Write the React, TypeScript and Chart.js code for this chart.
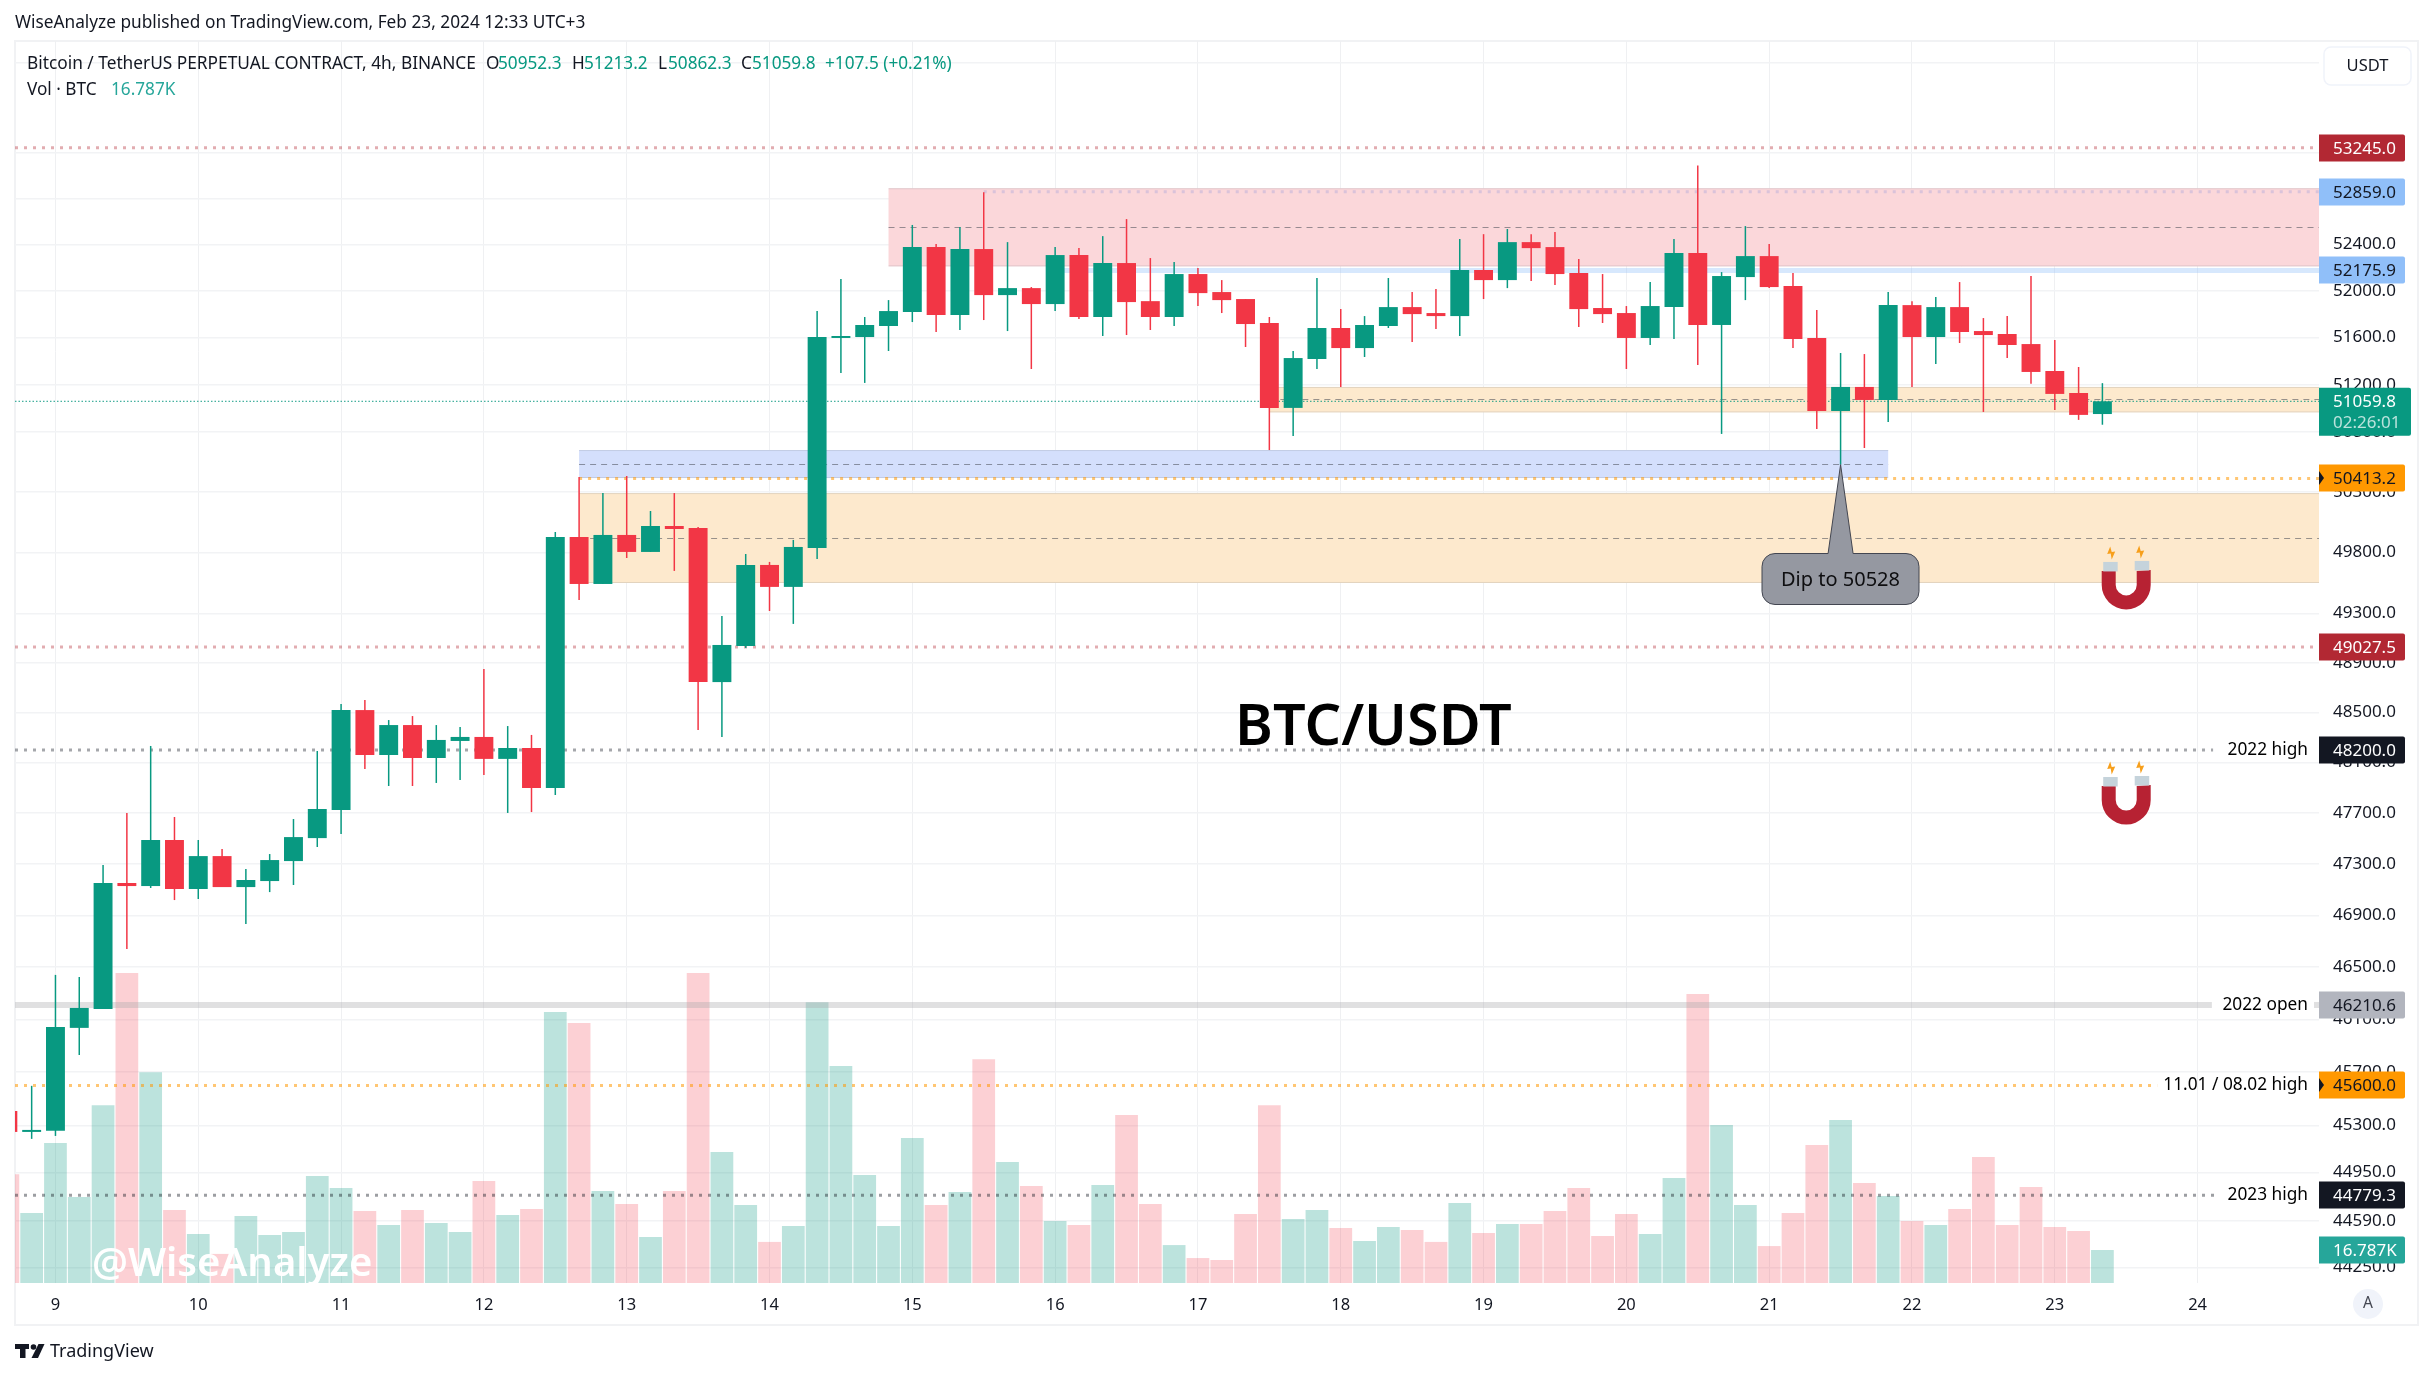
import React, { useEffect, useRef } from "react";
import { Chart, registerables } from "chart.js";

Chart.register(...registerables);

const FONT = '"Noto Sans", sans-serif';
const firstBarIndex = -2;

const dayLabels = ["9", "10", "11", "12", "13", "14", "15", "16", "17", "18", "19", "20", "21", "22", "23", "24"];
const priceTicks = [44250, 44590, 44950, 45300, 45700, 46100, 46500, 46900, 47300, 47700, 48100, 48500, 48900, 49300, 49800, 50300, 50800, 51200, 51600, 52000, 52400, 52800, 53200, 54000];

const opens = [45408,45251,45259,46036,46180,47152,47128,47488,47105,47362,47120,47167,47323,47503,47724,48519,48160,48399,48136,48272,48304,48129,48216,47898,49927,49541,49944,49804,50018,50002,48744,49036,49697,49517,49837,51597,51605,51699,51819,52378,51793,52361,51964,52024,51887,52309,51776,52240,51912,51776,52145,51990,51930,51725,51004,51418,51682,51511,51699,51861,51810,51784,52180,52093,52421,52378,52154,51853,51810,51597,51861,52326,51708,52119,52300,52042,51597,50978,51181,51071,51878,51605,51861,51656,51631,51545,51316,51130,50952.3];
const highs = [45491,45597,46441,46425,47292,47701,48232,47669,47488,47417,47261,47378,47653,48192,48567,48599,48439,48471,48399,48383,48849,48391,48320,49969,50425,50291,50433,50142,50291,50010,49280,49787,49722,49903,51827,52102,51776,51921,52570,52404,52553,52855,52421,52033,52378,52369,52473,52621,52283,52249,52197,52093,51930,51776,51486,52111,51844,51784,52111,51990,52016,52447,52490,52535,52490,52508,52274,52145,51870,52076,52447,53089,52162,52560,52404,52154,51836,51469,51460,51990,51912,51947,52076,51767,51784,52128,51579,51350,51213.2];
const lows = [45230,45199,45221,45830,46180,46640,47113,47019,47027,47120,46833,47081,47136,47433,47535,48049,47914,47914,47938,47962,48002,47701,47708,47843,49410,49541,49754,49804,49648,48360,48304,49020,49320,49215,49746,51299,51215,51486,51733,51648,51665,51750,51656,51333,51827,51759,51614,51622,51665,51699,51870,51810,51520,50650,50768,51333,51181,51435,51682,51562,51673,51614,51930,52024,52085,52050,51690,51725,51333,51537,51588,51367,50785,51921,52024,51511,50827,50528,50667,50886,51181,51376,51554,50970,51426,51207,50987,50903,50862.3];
const closes = [45251,45266,46043,46188,47152,47128,47488,47105,47362,47120,47175,47331,47511,47732,48519,48160,48399,48136,48280,48304,48129,48216,47898,49927,49541,49944,49804,50018,49993,48744,49044,49697,49517,49845,51605,51614,51708,51827,52378,51793,52361,51964,52024,51887,52309,51776,52240,51904,51776,52145,51981,51921,51716,51004,51426,51682,51511,51708,51861,51801,51784,52180,52093,52421,52369,52145,51844,51801,51597,51870,52326,51708,52128,52300,52033,51588,50978,51181,51071,51878,51605,51861,51648,51622,51537,51308,51122,50945,51059.8];
const volumes = [55.4,35.6,71.2,43.7,90.5,157.7,107.3,37.1,24.9,14.8,34.1,24.4,25.9,54.4,48.3,36.6,29.5,37.1,30.5,25.9,51.9,34.6,37.6,137.9,132.3,46.8,40.2,23.4,46.8,157.7,66.6,39.7,20.9,29.0,142.9,110.4,54.9,29.0,73.8,39.7,46.3,113.9,61.6,49.3,31.5,29.5,49.9,85.5,40.2,19.3,12.7,11.7,35.1,90.5,32.6,37.1,28.0,21.4,28.5,27.0,20.9,40.7,25.4,30.0,30.0,36.6,48.3,23.9,35.1,24.9,53.4,147.0,80.4,39.7,18.8,35.6,70.2,82.9,50.9,44.3,31.5,29.5,37.6,64.1,29.5,48.8,28.5,26.5,16.787];

const VOLUME_AXIS_MAX = 632;
const X_MIN = -1.7;
const X_MAX = 95.1;
const Y_MIN = 44135;
const Y_MAX = 54193;
const UP = "#089981";
const DOWN = "#F23645";
const barIndexes = opens.map((_, i) => i + firstBarIndex);

const zoneNames = ["supply", "upperDemand", "imbalance", "lowerDemand"];
const zoneTop = [52890, 51181, 50650, 50291];
const zoneBottom = [52211, 50966, 50416, 49549];
const zoneMid = [52550, 51079, 50533, 49919];
const zoneStart = [35, 51, 22, 22];
const zoneEnd = [X_MAX, X_MAX, 77, X_MAX];
const zoneFill = ["#FBD7DA", "#FDE9CD", "#D4DFFC", "#FDE9CD"];

const levelNames = ["top", "blue1", "blue2", "last", "orange1", "red", "high22", "open22", "high0108", "high23"];
const levelPrice = [53245, 52859, 52175.9, 51059.8, 50413.2, 49027.5, 48200, 46210.6, 45600, 44779.3];
const levelStart = [X_MIN, 39, 42, X_MIN, 22, X_MIN, X_MIN, X_MIN, X_MIN, X_MIN];
const levelEnd = [X_MAX, X_MAX, X_MAX, X_MAX, X_MAX, X_MAX, 90.65, 90.6, 88.3, 90.7];
const levelColor = ["rgba(178,40,51,0.38)", "rgba(144,150,220,0.3)", "rgba(144,191,249,0.36)", "rgba(8,153,129,0.95)", "rgba(255,152,0,0.55)", "rgba(178,40,51,0.38)", "rgba(19,23,34,0.38)", "rgba(170,170,172,0.36)", "rgba(255,152,0,0.55)", "rgba(19,23,34,0.42)"];
const levelWidth = [3, 3, 5, 1, 3, 3, 3, 6, 3, 3];
const levelDash = [[3, 6], [3, 6], [], [1.5, 2], [3, 6], [3, 6], [3, 6], [], [3, 6], [3, 6]];

const tagPrice = [53245, 52859, 52175.9, 50413.2, 49027.5, 48200, 46210.6, 45600, 44779.3];
const tagFill = ["#B22833", "#90BFF9", "#90BFF9", "#FF9800", "#B22833", "#131722", "#B2B5BE", "#FF9800", "#131722"];
const tagInk = ["#FFFFFF", "#131722", "#131722", "#131722", "#FFFFFF", "#FFFFFF", "#131722", "#131722", "#FFFFFF"];
const levelLabelPrice = [48200, 46210.6, 45600, 44779.3];
const levelLabelText = ["2022 high", "2022 open", "11.01 / 08.02 high", "2023 high"];
const magnetBar = [87, 87];
const magnetPrice = [49533, 47803];

const overlayPlugin = {
  id: "overlay",
  beforeDraw(chart: any) {
    const c = chart.ctx;
    c.save();
    c.fillStyle = "#FFFFFF";
    c.fillRect(0, 0, chart.width, chart.height);
    c.strokeStyle = "#F1F2F4";
    c.lineWidth = 2;
    c.strokeRect(15, 41, 2403, 1284);
    c.restore();
  },
  beforeDatasetsDraw(chart: any) {
    const c = chart.ctx;
    const x = chart.scales.x;
    const y = chart.scales.y;
    const area = chart.chartArea;
    c.save();
    c.beginPath();
    c.rect(area.left, area.top, area.right - area.left, area.bottom - area.top);
    c.clip();
    zoneNames.forEach((_, i) => {
      const l = x.getPixelForValue(zoneStart[i]);
      const r = x.getPixelForValue(zoneEnd[i]);
      const t = y.getPixelForValue(zoneTop[i]);
      const b = y.getPixelForValue(zoneBottom[i]);
      c.fillStyle = zoneFill[i];
      c.fillRect(l, t, r - l, b - t);
      c.strokeStyle = "rgba(120,123,134,0.2)";
      c.lineWidth = 1;
      c.beginPath();
      c.moveTo(l, t + 0.5);
      c.lineTo(r, t + 0.5);
      c.moveTo(l, b - 0.5);
      c.lineTo(r, b - 0.5);
      c.stroke();
      const m = Math.round(y.getPixelForValue(zoneMid[i])) + 0.5;
      c.strokeStyle = "rgba(70,72,84,0.55)";
      c.lineWidth = 1;
      c.setLineDash([6, 5]);
      c.beginPath();
      c.moveTo(l, m);
      c.lineTo(r, m);
      c.stroke();
      c.setLineDash([]);
    });
    c.restore();
  },
  afterDraw(chart: any) {
    const c = chart.ctx;
    const x = chart.scales.x;
    const y = chart.scales.y;
    const ink = "#131722";
    const axisLeft = 2319;
    const text = (s: string, px: number, py: number, font: string, color: string, align: CanvasTextAlign = "left") => {
      c.font = font;
      c.fillStyle = color;
      c.textAlign = align;
      c.textBaseline = "middle";
      c.fillText(s, px, py);
    };
    const round = (l: number, t: number, w: number, h: number, r: any) => {
      c.beginPath();
      c.roundRect(l, t, w, h, r);
    };
    c.save();

    // watermark + big label
    text("@WiseAnalyze", 92, 1265, `600 40px ${FONT}`, "#FFFFFF");
    text("BTC/USDT", 1235, 729, `600 57.5px ${FONT}`, "#000000");

    // level captions
    levelLabelPrice.forEach((p, i) => {
      text(levelLabelText[i], 2308, y.getPixelForValue(p), `17.3px ${FONT}`, "#000000", "right");
    });
    // stub of the 2022 open line behind the caption's far side
    c.fillStyle = "rgba(170,170,172,0.36)";
    c.fillRect(2314, y.getPixelForValue(46210.6) - 3, 5, 6);

    // magnets
    magnetBar.forEach((bar, i) => {
      const cx = x.getPixelForValue(bar);
      const cy = y.getPixelForValue(magnetPrice[i]);
      c.fillStyle = "#B72233";
      c.beginPath();
      c.moveTo(cx - 24.5, cy - 14);
      c.lineTo(cx - 24.5, cy);
      c.arc(cx, cy, 24.5, Math.PI, 0, true);
      c.lineTo(cx + 24.5, cy - 15);
      c.lineTo(cx + 10.5, cy - 14);
      c.lineTo(cx + 10.5, cy);
      c.arc(cx, cy, 10.5, 0, Math.PI, false);
      c.lineTo(cx - 10.5, cy - 14);
      c.closePath();
      c.fill();
      c.fillStyle = "#C5D3DB";
      c.fillRect(cx - 23, cy - 23, 14.5, 9.5);
      c.fillRect(cx + 8.5, cy - 24, 14.5, 9.5);
      [[-15, -32], [14, -33]].forEach(([dx, dy]) => {
        const bx = cx + dx;
        const by = cy + dy;
        c.fillStyle = "#F79F1B";
        c.beginPath();
        c.moveTo(bx - 1, by - 6.5);
        c.lineTo(bx - 4, by + 1);
        c.lineTo(bx - 0.5, by + 0.5);
        c.lineTo(bx + 0.5, by + 6.5);
        c.lineTo(bx + 4, by - 1.5);
        c.lineTo(bx + 0.5, by - 1);
        c.closePath();
        c.fill();
      });
    });

    // callout
    const tipX = x.getPixelForValue(75);
    const tipY = y.getPixelForValue(lows[75 - firstBarIndex]);
    const boxL = 1762;
    const boxT = 553.5;
    const boxW = 157;
    const boxH = 51;
    const r = 13;
    c.beginPath();
    c.moveTo(boxL + r, boxT);
    c.lineTo(tipX - 12.5, boxT);
    c.lineTo(tipX, tipY);
    c.lineTo(tipX + 12.5, boxT);
    c.arcTo(boxL + boxW, boxT, boxL + boxW, boxT + boxH, r);
    c.arcTo(boxL + boxW, boxT + boxH, boxL, boxT + boxH, r);
    c.arcTo(boxL, boxT + boxH, boxL, boxT, r);
    c.arcTo(boxL, boxT, boxL + boxW, boxT, r);
    c.closePath();
    c.fillStyle = "#9598A1";
    c.fill();
    c.strokeStyle = "#434651";
    c.lineWidth = 1;
    c.stroke();
    text("Dip to 50528", boxL + boxW / 2, boxT + boxH / 2 + 1, `20px ${FONT}`, "#0E0E10", "center");

    // axis tags
    tagPrice.forEach((p, i) => {
      const py = Math.round(y.getPixelForValue(p));
      c.fillStyle = tagFill[i];
      round(axisLeft, py - 13.5, 86, 27, [0, 2, 2, 0]);
      c.fill();
      text(p.toFixed(1), 2333, py + 1, `17px ${FONT}`, tagInk[i]);
      if (tagFill[i] === "#FF9800") {
        c.fillStyle = "#131722";
        c.beginPath();
        c.moveTo(axisLeft, py - 7);
        c.lineTo(axisLeft + 5, py);
        c.lineTo(axisLeft, py + 7);
        c.closePath();
        c.fill();
      }
    });
    // last price tag
    const lastPrice = closes[closes.length - 1];
    const lastY = y.getPixelForValue(lastPrice);
    c.fillStyle = UP;
    round(axisLeft, lastY - 13.5, 92, 48, [0, 2, 2, 0]);
    c.fill();
    text(lastPrice.toFixed(1), 2333, lastY + 1, `17px ${FONT}`, "#FFFFFF");
    text("02:26:01", 2333, lastY + 22, `17px ${FONT}`, "rgba(255,255,255,0.72)");
    // volume tag
    const lastVol = volumes[volumes.length - 1];
    const volY = Math.round(chart.scales.y2.getPixelForValue(lastVol));
    c.fillStyle = "#26A69A";
    round(axisLeft, volY - 13.5, 86, 27, [0, 2, 2, 0]);
    c.fill();
    text(lastVol.toFixed(3) + "K", 2333, volY + 1, `17px ${FONT}`, "#FFFFFF");

    // USDT button
    c.fillStyle = "#FFFFFF";
    round(2324, 47, 87, 38, 7);
    c.fill();
    c.strokeStyle = "#F0F3FA";
    c.lineWidth = 1.5;
    c.stroke();
    text("USDT", 2367.5, 66, `16.5px ${FONT}`, ink, "center");

    // auto button
    c.fillStyle = "#F0F3FA";
    c.beginPath();
    c.arc(2368, 1304, 15, 0, Math.PI * 2);
    c.fill();
    text("A", 2368, 1304, `15.5px ${FONT}`, "#434651", "center");

    // header and legend
    text("WiseAnalyze published on TradingView.com, Feb 23, 2024 12:33 UTC+3", 15, 23, `17.25px ${FONT}`, ink);
    text("Bitcoin / TetherUS PERPETUAL CONTRACT, 4h, BINANCE", 27, 64, `17.3px ${FONT}`, ink);
    const n = closes.length - 1;
    const chunks = [
      ["O", 486, ink], [opens[n].toFixed(1), 498, UP],
      ["H", 572, ink], [highs[n].toFixed(1), 584, UP],
      ["L", 658, ink], [lows[n].toFixed(1), 668, UP],
      ["C", 741, ink], [closes[n].toFixed(1), 752, UP],
      ["+107.5 (+0.21%)", 825, UP],
    ];
    chunks.forEach(([s, px, col]) => text(s as string, px as number, 64, `17.2px ${FONT}`, col as string));
    text("Vol · BTC", 27, 90, `17.2px ${FONT}`, ink);
    text(lastVol.toFixed(3) + "K", 111, 90, `17.2px ${FONT}`, "#26A69A");

    // footer mark
    c.fillStyle = ink;
    c.fillRect(15, 1344, 14, 5);
    c.fillRect(20, 1344, 5.5, 14);
    c.beginPath();
    c.arc(33.5, 1347, 2.8, 0, Math.PI * 2);
    c.fill();
    c.beginPath();
    c.moveTo(38.5, 1344);
    c.lineTo(44.5, 1344);
    c.lineTo(38, 1358);
    c.lineTo(31.5, 1358);
    c.closePath();
    c.fill();
    text("TradingView", 50, 1352, `18px ${FONT}`, ink);
    c.restore();
  },
};

export default function App() {
  const ref = useRef<HTMLCanvasElement | null>(null);
  useEffect(() => {
    const upDown = (up: string, down: string) => opens.map((o, i) => (closes[i] >= o ? up : down));
    const levelSets = levelNames.map((name, i) => ({
      type: "line" as const,
      label: name,
      data: [
        { x: levelStart[i], y: levelPrice[i] },
        { x: levelEnd[i], y: levelPrice[i] },
      ],
      yAxisID: "y",
      borderColor: levelColor[i],
      borderWidth: levelWidth[i],
      borderDash: levelDash[i],
      pointRadius: 0,
      order: 4,
    }));
    const chart = new Chart(ref.current as HTMLCanvasElement, {
      type: "bar",
      data: {
        datasets: [
          {
            label: "Vol",
            data: barIndexes.map((x, i) => ({ x, y: volumes[i] })),
            yAxisID: "y2",
            backgroundColor: upDown("rgba(8,153,129,0.27)", "rgba(242,54,69,0.23)"),
            barPercentage: 0.955,
            categoryPercentage: 1,
            order: 5,
          },
          ...levelSets,
          {
            label: "Wick",
            data: barIndexes.map((x, i) => ({ x, y: [lows[i], highs[i]] })),
            yAxisID: "y",
            backgroundColor: upDown(UP, DOWN),
            barPercentage: 0.063,
            categoryPercentage: 1,
            order: 2,
          },
          {
            label: "Body",
            data: barIndexes.map((x, i) => ({ x, y: [opens[i], closes[i]] })),
            yAxisID: "y",
            backgroundColor: upDown(UP, DOWN),
            barPercentage: 0.795,
            categoryPercentage: 1,
            order: 1,
          },
        ] as any,
      },
      options: {
        animation: false,
        responsive: false,
        devicePixelRatio: 1,
        layout: { padding: { left: 15, top: 41, right: 15, bottom: 53 } },
        plugins: { legend: { display: false }, tooltip: { enabled: false } },
        datasets: { bar: { grouped: false } },
        scales: {
          x: {
            type: "linear",
            offset: false,
            min: X_MIN,
            max: X_MAX,
            grid: { color: "#EFF0F2", drawTicks: false, offset: false },
            border: { display: false },
            afterBuildTicks: (axis: any) => {
              axis.ticks = dayLabels.map((_, i) => ({ value: i * 6 }));
            },
            afterFit: (axis: any) => {
              axis.height = 42;
            },
            ticks: {
              autoSkip: false,
              maxRotation: 0,
              padding: 12,
              color: "#131722",
              font: { family: FONT, size: 16.5 },
              callback: (v: any) => dayLabels[Number(v) / 6],
            },
          },
          y: {
            type: "logarithmic",
            position: "right",
            min: Y_MIN,
            max: Y_MAX,
            grid: { color: "#F2F3F5", lineWidth: 1.5, drawTicks: false },
            border: { display: false },
            afterBuildTicks: (axis: any) => {
              axis.ticks = priceTicks.map((value) => ({ value }));
            },
            afterFit: (axis: any) => {
              axis.width = 99;
            },
            ticks: {
              autoSkip: false,
              padding: 14,
              color: "#131722",
              font: { family: FONT, size: 17 },
              callback: (v: any) => Number(v).toFixed(1),
            },
          },
          y2: { type: "linear", display: false, min: 0, max: VOLUME_AXIS_MAX },
        },
      } as any,
      plugins: [overlayPlugin],
    });
    return () => chart.destroy();
  }, []);
  return <canvas ref={ref} width={2433} height={1378} style={{ position: "absolute", left: 0, top: 0, display: "block" }} />;
}
